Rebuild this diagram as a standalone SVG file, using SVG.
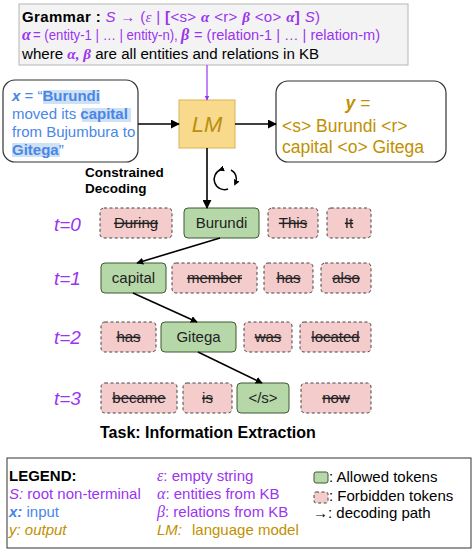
<svg xmlns="http://www.w3.org/2000/svg" width="474" height="553" viewBox="0 0 474 553">
<defs>
<style>
text{font-family:"Liberation Sans",Arial,sans-serif;}
.pu{fill:#9b34f0;}
.bl{fill:#4a86e8;}
.go{fill:#bf9000;}
.gr{font-family:"Liberation Serif","DejaVu Serif",serif;font-style:italic;}
.ok{fill:#b6d7a8;stroke:#3d5a33;stroke-width:1;}
.no{fill:#f4cccc;stroke:#444;stroke-width:1;stroke-dasharray:3,2.5;}
.tk{font-size:15px;fill:#222;text-anchor:middle;}
.st{text-decoration:line-through;}
.tl{font-size:19px;font-style:italic;fill:#9b34f0;}
.ar{fill:none;stroke:#000;stroke-width:1.6;}
.lg{font-size:15px;}
</style>
<marker id="ah" viewBox="0 0 10 10" refX="9" refY="5" markerWidth="7" markerHeight="7" markerUnits="userSpaceOnUse" orient="auto"><path d="M0,0 L10,5 L0,10 z" fill="#000"/></marker>
<marker id="ah2" viewBox="0 0 10 10" refX="9" refY="5" markerWidth="9" markerHeight="9" markerUnits="userSpaceOnUse" orient="auto"><path d="M0,0 L10,5 L0,10 z" fill="#000"/></marker>
<marker id="ahp" viewBox="0 0 10 10" refX="9" refY="5" markerWidth="5" markerHeight="5" markerUnits="userSpaceOnUse" orient="auto"><path d="M0,0 L10,5 L0,10 z" fill="#9b34f0"/></marker>
<marker id="ahs" viewBox="0 0 10 10" refX="5" refY="5" markerWidth="6" markerHeight="6" markerUnits="userSpaceOnUse" orient="auto"><path d="M0,0 L10,5 L0,10 z" fill="#000"/></marker>
</defs>

<g id="grammar">
<rect x="19" y="4" width="389" height="61" fill="#f3f3f3" stroke="#b5b5b5" stroke-width="1"/>
<text x="22" y="22" font-size="15" textLength="298" lengthAdjust="spacing"><tspan font-weight="bold" fill="#000">Grammar : </tspan><tspan class="pu" font-style="italic">S</tspan><tspan class="pu"> → (</tspan><tspan class="pu gr">ε</tspan><tspan class="pu"> | </tspan><tspan class="pu" font-weight="bold">[</tspan><tspan class="pu">&lt;s&gt; </tspan><tspan class="pu gr" font-weight="bold">α</tspan><tspan class="pu"> &lt;r&gt; </tspan><tspan class="pu gr" font-weight="bold">β</tspan><tspan class="pu"> &lt;o&gt; </tspan><tspan class="pu gr" font-weight="bold">α</tspan><tspan class="pu" font-weight="bold">]</tspan><tspan class="pu">  </tspan><tspan class="pu" font-style="italic">S</tspan><tspan class="pu">)</tspan></text>
<text x="22" y="40" font-size="16" class="pu gr" font-weight="bold">α</text>
<text transform="translate(33,40) scale(0.85,1)" font-size="15.5" class="pu">= (entity-1  | … | entity-n),</text>
<text x="181" y="40" font-size="16" class="pu gr" font-weight="bold">β</text>
<text transform="translate(194,40) scale(0.94,1)" font-size="15.5" class="pu">= (relation-1 | … | relation-m)</text>
<text x="22" y="59" font-size="15.1" fill="#000">where <tspan class="pu gr" font-weight="bold">α, β</tspan> are all entities and relations in KB</text>
</g>

<g id="input">
<rect x="3" y="80" width="135" height="82" rx="12" fill="#fff" stroke="#333" stroke-width="1.2"/>
<rect x="43" y="90" width="57" height="14" fill="#cfe2f3"/>
<rect x="82" y="108" width="49" height="14" fill="#cfe2f3"/>
<rect x="12" y="143" width="48" height="14" fill="#cfe2f3"/>
<text font-size="15" class="bl"><tspan x="12" y="101"><tspan font-weight="bold" font-style="italic">x</tspan> = “<tspan font-weight="bold">Burundi</tspan></tspan><tspan x="12" y="119">moved its <tspan font-weight="bold">capital</tspan></tspan><tspan x="12" y="137">from Bujumbura to</tspan><tspan x="12" y="155"><tspan font-weight="bold">Gitega</tspan>”</tspan></text>
</g>

<g id="lm">
<rect x="179" y="100" width="56" height="48" fill="#f9d98c" stroke="#d6b656" stroke-width="1"/>
<text x="207" y="132" font-size="22" font-style="italic" text-anchor="middle" fill="#b8900f">LM</text>
</g>

<g id="output">
<rect x="276" y="81" width="170" height="81" rx="12" fill="#fff" stroke="#333" stroke-width="1.2"/>
<text font-family="Roboto,'Liberation Sans',sans-serif" font-size="17.5" class="go"><tspan x="358" y="109" text-anchor="middle"><tspan font-weight="bold" font-style="italic">y</tspan> =</tspan><tspan x="282" y="132">&lt;s&gt; Burundi &lt;r&gt;</tspan><tspan x="282" y="153">capital &lt;o&gt; Gitega</tspan></text>
</g>

<g id="constrained-label">
<text font-size="13.5" font-weight="bold" fill="#000"><tspan x="85" y="177">Constrained</tspan><tspan x="85" y="193">Decoding</tspan></text>
</g>

<g id="loop-icon" fill="none" stroke="#000" stroke-width="1.5">
<path d="M221,169.5 A10,10 0 0 0 228,189" marker-start="url(#ahs)"/>
<path d="M231,170 A10,10 0 0 1 235.5,183" marker-end="url(#ahs)"/>
</g>

<g id="labels">
<text class="tl" x="54" y="231">t=0</text>
<text class="tl" x="54" y="285">t=1</text>
<text class="tl" x="54" y="344">t=2</text>
<text class="tl" x="54" y="405">t=3</text>
</g>

<g id="row-t0">
<g id="tok-during"><rect class="no" x="100" y="208" width="72" height="30" rx="4"/><text class="tk st" x="136" y="228">During</text></g>
<g id="tok-burundi"><rect class="ok" x="184" y="208" width="75" height="30" rx="4"/><text class="tk" x="221.5" y="228">Burundi</text></g>
<g id="tok-this"><rect class="no" x="268" y="208" width="50" height="30" rx="4"/><text class="tk st" x="293" y="228">This</text></g>
<g id="tok-it"><rect class="no" x="327" y="208" width="44" height="30" rx="4"/><text class="tk st" x="349" y="228">It</text></g>
</g>
<g id="row-t1">
<g id="tok-capital"><rect class="ok" x="101" y="263" width="65" height="30" rx="4"/><text class="tk" x="133.5" y="283">capital</text></g>
<g id="tok-member"><rect class="no" x="172" y="263" width="85" height="30" rx="4"/><text class="tk st" x="214.5" y="283">member</text></g>
<g id="tok-has1"><rect class="no" x="264" y="263" width="49" height="30" rx="4"/><text class="tk st" x="288.5" y="283">has</text></g>
<g id="tok-also"><rect class="no" x="321" y="263" width="50" height="30" rx="4"/><text class="tk st" x="346" y="283">also</text></g>
</g>
<g id="row-t2">
<g id="tok-has2"><rect class="no" x="101" y="322" width="55" height="30" rx="4"/><text class="tk st" x="128.5" y="342">has</text></g>
<g id="tok-gitega"><rect class="ok" x="161" y="322" width="75" height="30" rx="4"/><text class="tk" x="198.5" y="342">Gitega</text></g>
<g id="tok-was"><rect class="no" x="244" y="322" width="48" height="30" rx="4"/><text class="tk st" x="268" y="342">was</text></g>
<g id="tok-located"><rect class="no" x="300" y="322" width="71" height="30" rx="4"/><text class="tk st" x="335.5" y="342">located</text></g>
</g>
<g id="row-t3">
<g id="tok-became"><rect class="no" x="101" y="383" width="76" height="30" rx="4"/><text class="tk st" x="139" y="403">became</text></g>
<g id="tok-is"><rect class="no" x="183" y="383" width="49" height="30" rx="4"/><text class="tk st" x="207.5" y="403">is</text></g>
<g id="tok-end"><rect class="ok" x="237" y="383" width="52" height="30" rx="4"/><text class="tk" x="263" y="403">&lt;/s&gt;</text></g>
<g id="tok-now"><rect class="no" x="301" y="383" width="70" height="30" rx="4"/><text class="tk st" x="336" y="403">now</text></g>
</g>

<g id="connectors">
<line x1="207" y1="65" x2="207" y2="100" stroke="#9b34f0" stroke-width="1.2" marker-end="url(#ahp)"/>
<line class="ar" x1="138" y1="124" x2="179" y2="124" marker-end="url(#ah2)"/>
<line class="ar" x1="235" y1="124" x2="276" y2="124" marker-end="url(#ah2)"/>
<line class="ar" x1="207" y1="148" x2="207" y2="208" marker-end="url(#ah2)"/>
<line class="ar" x1="220" y1="238" x2="137" y2="263" marker-end="url(#ah)"/>
<line class="ar" x1="133" y1="293" x2="197" y2="322" marker-end="url(#ah)"/>
<line class="ar" x1="198" y1="352" x2="262" y2="383" marker-end="url(#ah)"/>
</g>

<g id="task-title">
<text x="100" y="438" font-size="16" font-weight="bold" fill="#000">Task: Information Extraction</text>
</g>

<g id="legend">
<rect x="7" y="458" width="464" height="90" fill="#fff" stroke="#333" stroke-width="1"/>
<text class="lg" x="9" y="481" font-weight="bold" fill="#000">LEGEND:</text>
<text class="lg pu" x="9" y="499"><tspan font-style="italic">S:</tspan> root non-terminal</text>
<text class="lg bl" x="9" y="517"><tspan font-weight="bold" font-style="italic">x:</tspan>   input</text>
<text class="lg go" x="9" y="535" font-style="italic">y:  output</text>
<text class="lg pu" x="157" y="481"><tspan class="gr" font-size="16">ε</tspan>: empty string</text>
<text class="lg pu" x="157" y="499"><tspan class="gr" font-size="16">α</tspan>: entities from KB</text>
<text class="lg pu" x="157" y="517"><tspan class="gr" font-size="16">β</tspan>: relations from KB</text>
<text class="lg go" x="157" y="535"><tspan font-style="italic">LM:</tspan></text>
<text class="lg go" x="192" y="535">language model</text>
<rect class="ok" x="314" y="472" width="14" height="11" rx="2"/>
<text class="lg" x="329" y="482" fill="#000">: Allowed tokens</text>
<rect class="no" x="314" y="492" width="14" height="11" rx="2"/>
<text class="lg" x="329" y="501" fill="#000">: Forbidden tokens</text>
<text class="lg" x="313" y="518" fill="#000">→: decoding path</text>
</g>
</svg>
